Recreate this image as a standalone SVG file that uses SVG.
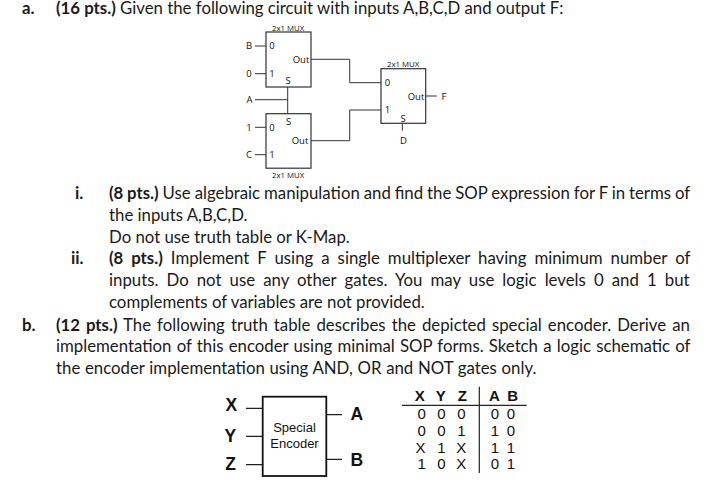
<svg xmlns="http://www.w3.org/2000/svg" width="712" height="496" viewBox="0 0 712 496">
<style>
.t{font-family:Lato,"Open Sans","Liberation Sans",sans-serif;font-size:16.800px;fill:#1a1a1a}
.b{font-weight:700}
.m{font-family:"Open Sans","Liberation Sans",sans-serif;font-size:7.800px;fill:#111}
.l{font-family:"Open Sans","Liberation Sans",sans-serif;font-size:9.500px;fill:#111;text-anchor:middle}
.a{font-family:"Liberation Sans",Arial,sans-serif;fill:#111;text-anchor:middle}
.box{fill:#fff;stroke:#333;stroke-width:1.2}
.w{fill:none;stroke:#333;stroke-width:1}
.e{fill:#fff;stroke:#111;stroke-width:1.8}
.k{fill:none;stroke:#222;stroke-width:1.2}
</style>
<rect width="712" height="496" fill="#fff"/>
<g id="text">
<text class="t b" x="22" y="14">a.</text>
<text class="t" x="56" y="14"><tspan class="b">(16 pts.)</tspan> Given the following circuit with inputs A,B,C,D and output F:</text>
<text class="t b" x="75" y="199">i.</text>
<text class="t" x="109" y="199" word-spacing="-0.360"><tspan class="b">(8 pts.)</tspan> Use algebraic manipulation and find the SOP expression for F in terms of</text>
<text class="t" x="109" y="221">the inputs A,B,C,D.</text>
<text class="t" x="109" y="243">Do not use truth table or K-Map.</text>
<text class="t b" x="71" y="264">ii.</text>
<text class="t" x="109" y="264" word-spacing="3.730"><tspan class="b">(8 pts.)</tspan> Implement F using a single multiplexer having minimum number of</text>
<text class="t" x="109" y="286" word-spacing="3.800">inputs. Do not use any other gates. You may use logic levels 0 and 1 but</text>
<text class="t" x="109" y="308">complements of variables are not provided.</text>
<text class="t b" x="22" y="331">b.</text>
<text class="t" x="56" y="331" word-spacing="1.750"><tspan class="b">(12 pts.)</tspan> The following truth table describes the depicted special encoder. Derive an</text>
<text class="t" x="56" y="352" word-spacing="0.920">implementation of this encoder using minimal SOP forms. Sketch a logic schematic of</text>
<text class="t" x="56" y="374" word-spacing="0.440">the encoder implementation using AND, OR and NOT gates only.</text>
</g>
<g id="connectors">
<path class="w" d="M255 46H266M255 73.7H266M255 99.7H287.7M287.7 87V113.7M255 127.3H266M255 154.7H266"/>
<path class="w" d="M311 59.3H349.7V82.7H381M311 140.7H349.7V110H381M425.7 96H436.7M402.3 123.3V130.7"/>
<path class="k" d="M246 408.3H262.7M246 436.3H262.7M246 464.7H262.7M326.3 414.7H342M326.3 459.3H342"/>
</g>
<g id="mux1">
<rect class="box" x="266" y="32" width="45" height="55"/>
<text class="m" x="272" y="30.500">2x1 MUX</text>
<text class="l" x="272" y="49">0</text><text class="l" x="272" y="76.500">1</text>
<text class="l" x="301" y="63">Out</text><text class="l" x="288" y="84">S</text>
</g>
<g id="mux2">
<rect class="box" x="266" y="113.700" width="45" height="54.500"/>
<text class="m" x="272" y="178">2x1 MUX</text>
<text class="l" x="272" y="130.500">0</text><text class="l" x="272" y="157.500">1</text>
<text class="l" x="300" y="144">Out</text><text class="l" x="288.500" y="124.500">S</text>
</g>
<g id="mux3">
<rect class="box" x="381" y="68.700" width="44.700" height="54.600"/>
<text class="m" x="387" y="67">2x1 MUX</text>
<text class="l" x="387.500" y="86">0</text><text class="l" x="387.500" y="113">1</text>
<text class="l" x="416" y="100">Out</text><text class="l" x="403" y="122">S</text>
</g>
<g id="inputs">
<text class="l" x="249" y="49">B</text><text class="l" x="249" y="77">0</text>
<text class="l" x="249.500" y="103">A</text><text class="l" x="249" y="131">1</text>
<text class="l" x="249" y="158">C</text><text class="l" x="444" y="99.500">F</text>
<text class="l" x="403.500" y="143.500">D</text>
</g>
<g id="encoder">
<rect class="e" x="262.700" y="396.700" width="63.600" height="79.300"/>
<text class="a" x="294.500" y="432" font-size="13">Special</text>
<text class="a" x="294.500" y="448" font-size="13">Encoder</text>
<text class="a" x="231.300" y="410.700" font-size="17.500" font-weight="700">X</text>
<text class="a" x="230.300" y="442.300" font-size="17.500" font-weight="700">Y</text>
<text class="a" x="230.700" y="470" font-size="17.500" font-weight="700">Z</text>
<text class="a" x="356.700" y="420.300" font-size="17.500" font-weight="700">A</text>
<text class="a" x="356.700" y="466" font-size="17.500" font-weight="700">B</text>
</g>
<g id="table">
<path class="k" d="M402 405.300H526.700M479.300 386.700V473"/>
<g font-size="15">
<text class="a" x="419.700" y="401.300" font-weight="700">X</text><text class="a" x="440.700" y="401.300" font-weight="700">Y</text><text class="a" x="462.300" y="401.300" font-weight="700">Z</text><text class="a" x="494.300" y="401.300" font-weight="700">A</text><text class="a" x="512.700" y="401.300" font-weight="700">B</text>
<text class="a" x="421.700" y="419.300">0</text><text class="a" x="441.300" y="419.300">0</text><text class="a" x="461.300" y="419.300">0</text><text class="a" x="495" y="419.300">0</text><text class="a" x="511" y="419.300">0</text>
<text class="a" x="421.700" y="436">0</text><text class="a" x="441.300" y="436">0</text><text class="a" x="461.300" y="436">1</text><text class="a" x="495" y="436">1</text><text class="a" x="511" y="436">0</text>
<text class="a" x="420.500" y="452.700">X</text><text class="a" x="441.300" y="452.700">1</text><text class="a" x="461.300" y="452.700">X</text><text class="a" x="495" y="452.700">1</text><text class="a" x="511" y="452.700">1</text>
<text class="a" x="421.700" y="469.300">1</text><text class="a" x="441.300" y="469.300">0</text><text class="a" x="461.300" y="469.300">X</text><text class="a" x="495" y="469.300">0</text><text class="a" x="511" y="469.300">1</text>
</g>
</g>
</svg>
